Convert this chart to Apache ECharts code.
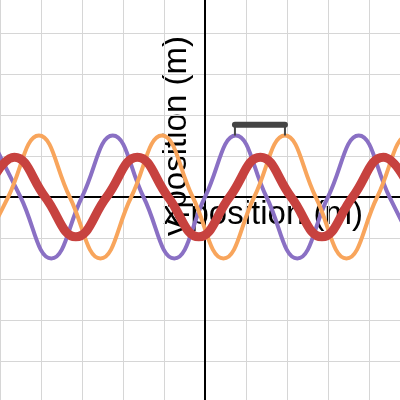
<!DOCTYPE html>
<html>
<head>
<meta charset="utf-8">
<script src="https://cdn.jsdelivr.net/npm/echarts@6/dist/echarts.min.js"></script>
<style>html,body{margin:0;padding:0;background:#fff;overflow:hidden;width:400px;height:400px;position:relative}#chart{width:410px;height:410px;position:absolute;left:0;top:-8px}</style>
</head>
<body>
<div id="chart"></div>
<script>
// key points (zero crossings, peaks, troughs)
var purpleX = [-5.25,-4.5,-3.75,-3,-2.25,-1.5,-0.75,0,0.75,1.5,2.25,3,3.75,4.5,5.25];
var purpleY = [1.5,0,-1.5,0,1.5,0,-1.5,0,1.5,0,-1.5,0,1.5,0,-1.5];
var orangeX = [-5.55,-4.8,-4.05,-3.3,-2.55,-1.8,-1.05,-0.3,0.45,1.2,1.95,2.7,3.45,4.2,4.95,5.7];
var orangeY = [-1.5,0,1.5,0,-1.5,0,1.5,0,-1.5,0,1.5,0,-1.5,0,1.5,0];
var redX = [-5.4,-4.65,-3.9,-3.15,-2.4,-1.65,-0.9,-0.15,0.6,1.35,2.1,2.85,3.6,4.35,5.1];
var redY = [0,0.97,0,-0.97,0,0.97,0,-0.97,0,0.97,0,-0.97,0,0.97,0];
var barX = [0.73,0.73,1.95,1.95];
var barY = [1.5,1.76,1.76,1.5];

function pts(xs, ys) { return xs.map(function (x, i) { return [x, ys[i]]; }); }

var chart = echarts.init(document.getElementById('chart'));
var axisCommon = {
    type: 'value', interval: 1,
    axisLine: { onZero: true, lineStyle: { color: '#000', width: 2 } },
    axisTick: { show: false }, axisLabel: { show: false },
    splitLine: { lineStyle: { color: '#d6d6d6', width: 1 } }
};
chart.setOption({
    animation: false,
    grid: { left: 0, right: 0, top: 0, bottom: 0 },
    xAxis: Object.assign({}, axisCommon, { min: -5, max: 5 }),
    yAxis: Object.assign({}, axisCommon, { min: -5, max: 5 }),
    graphic: [
        { type: 'text', left: 163, top: 206, style: { text: 'x-position (m)', font: '33px "Liberation Sans", Arial', fill: '#000' } },
        { type: 'text', x: 160, y: 244, rotation: Math.PI / 2, style: { text: 'y-position (m)', font: '33px "Liberation Sans", Arial', fill: '#000' } }
    ],
    series: [
        { type: 'line', data: pts(purpleX, purpleY), smooth: 0.45, symbol: 'none', lineStyle: { color: '#8a70c4', width: 4 } },
        { type: 'line', data: pts(orangeX, orangeY), smooth: 0.45, symbol: 'none', lineStyle: { color: '#f8a55c', width: 4 } },
        { type: 'line', data: pts(redX, redY), smooth: 0.45, symbol: 'none', lineStyle: { color: '#c7423f', width: 9 } },
        { type: 'line', data: pts(barX, barY), symbol: 'none', lineStyle: { color: '#444', width: 2 } },
        { type: 'line', data: pts(barX.slice(1, 3), barY.slice(1, 3)), symbol: 'none', lineStyle: { color: '#444', width: 6, cap: 'round' } }
    ]
});
</script>
</body>
</html>
